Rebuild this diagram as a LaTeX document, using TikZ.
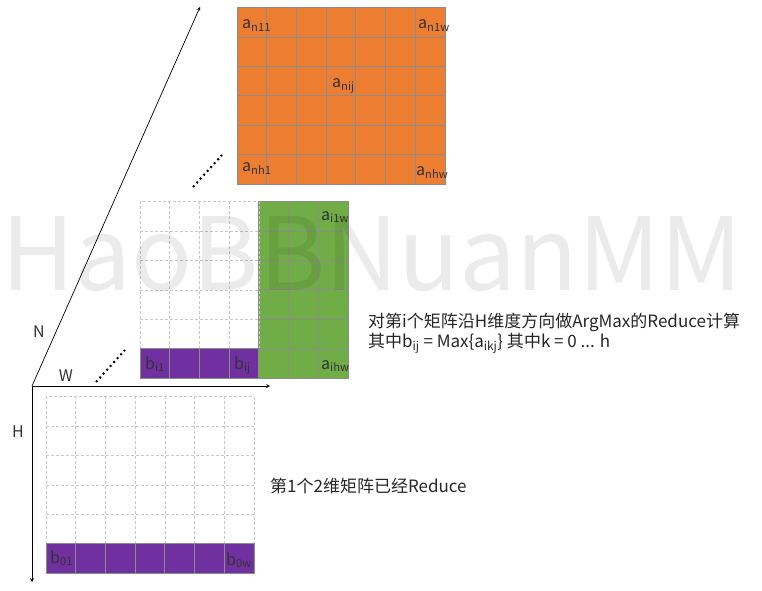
\documentclass[tikz,border=0pt]{standalone}
\usepackage{fontspec}
\setmainfont{Noto Sans CJK SC}
\usepackage{tikz}
\definecolor{matorange}{HTML}{ED7D31}
\definecolor{matgreen}{HTML}{70AD47}
\definecolor{matpurple}{HTML}{7030A0}
\definecolor{cellline}{HTML}{8C8C8C}
\definecolor{dashline}{HTML}{C8C8C8}
\newcommand{\sbs}[1]{\textsubscript{#1}}

\begin{document}
\begin{tikzpicture}[> = stealth, % arrow head style
	x=1pt,y=1pt, % one unit is one pixel
	cellgrid/.style={draw=cellline,line width=.8pt},
	emptygrid/.style={draw=dashline,dash pattern=on 3pt off 2pt,line width=.6pt},
	axis/.style={->,black,line width=.7pt},
	dots/.style={black,line width=2pt,dash pattern=on 2pt off 3.2pt},
	lbl/.style={anchor=base west,inner sep=0pt,font=\fontsize{16}{16}\selectfont,text=black!80},
	note/.style={anchor=base west,inner sep=0pt,font=\fontsize{17}{17}\selectfont,text=black!85}]
	\useasboundingbox (0,0) rectangle (762,590);

	% axes
	\coordinate (o) at (32,204);
	\coordinate (wend) at (270,204);
	\coordinate (hend) at (32,8);
	\coordinate (nend) at (200,583);
	\draw [axis] (o) -- (wend);
	\draw [axis] (o) -- (hend);
	\draw [axis] (o) -- (nend);
	\node [lbl,anchor=center,font=\fontsize{16}{16}\selectfont] (nlab) at (39,258) {N};
	\node [lbl,anchor=center,font=\fontsize{16}{16}\selectfont] (wlab) at (66,214) {W};
	\node [lbl,anchor=center,font=\fontsize{16}{16}\selectfont] (hlab) at (18,158) {H};

	% n-th matrix
	\fill [matorange] (237,406) rectangle +(207.9,176.4);
	\foreach \c in {1,...,6}
		\draw [cellgrid] (237+\c*29.7,406) -- ++(0,176.4);
	\foreach \r in {1,...,5}
		\draw [cellgrid] (237,406+\r*29.4) -- ++(207.9,0);
	\draw [cellgrid] (237,406) rectangle +(207.9,176.4);
	\node [lbl] (an11) at (242,561) {a\sbs{n11}};
	\node [lbl] (an1w) at (418,561) {a\sbs{n1w}};
	\node [lbl] (anij) at (332,502) {a\sbs{nij}};
	\node [lbl] (anh1) at (242,418) {a\sbs{nh1}};
	\node [lbl] (anhw) at (416,414) {a\sbs{nhw}};

	% i-th matrix
	\fill [matgreen] (258.8,212) rectangle (347.9,388.4);
	\fill [matpurple] (140,212) rectangle (258.8,241.4);
	\foreach \c in {1,2,3}
		\draw [emptygrid] (140+\c*29.7,241.4) -- (140+\c*29.7,388.4);
	\foreach \r in {2,...,5}
		\draw [emptygrid] (140,212+\r*29.4) -- (258.8,212+\r*29.4);
	\draw [emptygrid] (140,241.4) rectangle (258.8,388.4);
	\foreach \c in {1,2,3}
		\draw [cellgrid] (140+\c*29.7,212) -- ++(0,29.4);
	\foreach \c in {5,6}
		\draw [cellgrid] (140+\c*29.7,212) -- ++(0,176.4);
	\foreach \r in {1,...,5}
		\draw [cellgrid] (258.8,212+\r*29.4) -- (347.9,212+\r*29.4);
	\draw [cellgrid] (258.8,212) rectangle (347.9,388.4);
	\draw [cellgrid] (140,212) rectangle (258.8,241.4);
	\node [lbl] (ai1w) at (321,370) {a\sbs{i1w}};
	\node [lbl] (aihw) at (321,221) {a\sbs{ihw}};
	\node [lbl] (bi1) at (145,221) {b\sbs{i1}};
	\node [lbl] (bij) at (234,221) {b\sbs{ij}};

	% first matrix, reduced
	\fill [matpurple] (46,17) rectangle (253.9,46.4);
	\foreach \c in {1,...,6}
		\draw [emptygrid] (46+\c*29.7,46.4) -- (46+\c*29.7,193.4);
	\foreach \r in {2,...,5}
		\draw [emptygrid] (46,17+\r*29.4) -- (253.9,17+\r*29.4);
	\draw [emptygrid] (46,46.4) rectangle (253.9,193.4);
	\foreach \c in {1,...,6}
		\draw [cellgrid] (46+\c*29.7,17) -- ++(0,29.4);
	\draw [cellgrid] (46,17) rectangle (253.9,46.4);
	\node [lbl] (b01) at (50,27) {b\sbs{01}};
	\node [lbl] (b0w) at (226,25) {b\sbs{0w}};

	% dots between matrices
	\coordinate (d1a) at (193,403);
	\coordinate (d1b) at (222,435);
	\coordinate (d2a) at (96,208);
	\coordinate (d2b) at (125,240);
	\draw [dots] (d1a) -- (d1b);
	\draw [dots] (d2a) -- (d2b);

	% notes
	\node [note] (step1) at (368,263) {对第i个矩阵沿H维度方向做ArgMax的Reduce计算};
	\node [note] (step2) at (368,243) {其中b\sbs{ij} = Max\{a\sbs{ikj}\} 其中k = 0 ... h};
	\node [note] (done) at (270,98) {第1个2维矩阵已经Reduce};

	% watermark on top
	\node [anchor=base west,inner sep=0pt,text=black,opacity=.08,
		font=\fontsize{101}{101}\selectfont] (wm) at (1,300) {HaoBBNuanMM};
\end{tikzpicture}
\end{document}
